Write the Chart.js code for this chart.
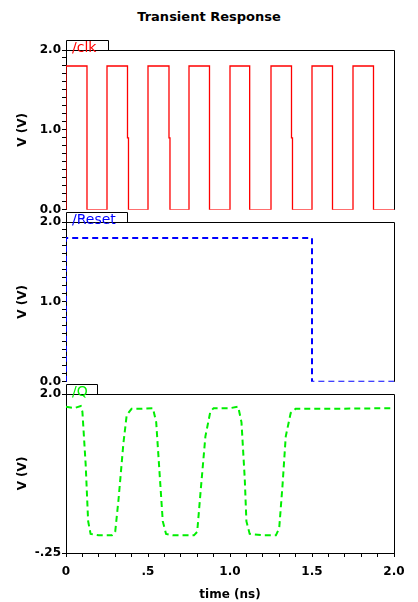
<!DOCTYPE html>
<html lang="en">
<head>
  <meta charset="UTF-8">
  <title>Transient Response</title>
  <script src="https://cdn.jsdelivr.net/npm/chart.js"></script>
  <style>
    body { margin: 0; background: #fff; width: 418px; height: 602px; position: relative; overflow: hidden; }
    canvas { position: absolute; left: 0; }
    #title { position: absolute; top: 9px; width: 418px; text-align: center; font: bold 13px "DejaVu Sans", sans-serif; }
  </style>
</head>
<body>
  <div id="title">Transient Response</div>
  <canvas id="c1" style="top:0"></canvas>
  <canvas id="c2" style="top:212px"></canvas>
  <canvas id="c3" style="top:384px"></canvas>
  <script>
    // clock: rising edges every 0.25 ns, falling ~0.125 ns later
    const clkRise = [0, 0.25, 0.5, 0.75, 1.0, 1.25, 1.5, 1.75];
    const clkFall = [0.128, 0.375, 0.628, 0.875, 1.12, 1.375, 1.625, 1.875];
    const clkStepFall = [false, true, true, false, false, true, false, false]; // brief 0.9 V shelf
    const clkHigh = 1.8;

    const resetTimes = [0, 0, 1.5, 1.5, 2.0];
    const resetValues = [0, 1.8, 1.8, 0, 0];

    const qTimes = [0, 0.05, 0.09, 0.1, 0.12, 0.135, 0.15, 0.2, 0.28, 0.3, 0.32, 0.35, 0.37, 0.4, 0.45, 0.53,
      0.55, 0.57, 0.59, 0.61, 0.65, 0.78, 0.8, 0.82, 0.85, 0.88, 0.9, 1.0, 1.05, 1.07, 1.09, 1.1, 1.12, 1.2,
      1.28, 1.3, 1.32, 1.34, 1.37, 1.4, 1.6, 2.0];
    const qValues = [1.82, 1.8, 1.83, 1.75, 1.0, 0.2, 0.02, 0.0, 0.0, 0.05, 0.5, 1.3, 1.7, 1.79, 1.79, 1.8,
      1.6, 0.9, 0.2, 0.02, 0.0, 0.0, 0.05, 0.6, 1.4, 1.75, 1.8, 1.8, 1.82, 1.6, 0.8, 0.2, 0.02, 0.0,
      0.0, 0.1, 0.7, 1.4, 1.73, 1.79, 1.79, 1.8];

    const xTickLabels = { 0: '0', 0.5: '.5', 1: '1.0', 1.5: '1.5', 2: '2.0' };

    const font = { family: 'DejaVu Sans', size: 12, weight: 'bold' };

    // build clk step points
    const clkPts = [{ x: 0, y: 0 }];
    clkRise.forEach((r, i) => {
      clkPts.push({ x: r, y: 0 }, { x: r, y: clkHigh }, { x: clkFall[i], y: clkHigh });
      if (clkStepFall[i]) {
        clkPts.push({ x: clkFall[i], y: 0.9 }, { x: clkFall[i] + 0.006, y: 0.9 }, { x: clkFall[i] + 0.006, y: 0 });
      } else {
        clkPts.push({ x: clkFall[i], y: 0 });
      }
    });
    clkPts.push({ x: 2.0, y: 0 });

    // frame + label tab
    function framePlugin(label, color, tabW) {
      return {
        id: 'frame',
        afterDraw(chart) {
          const a = chart.chartArea, c = chart.ctx;
          c.save();
          c.strokeStyle = '#000';
          c.lineWidth = 1;
          c.beginPath();
          c.moveTo(a.left, a.top + 0.5);
          c.lineTo(a.right + 0.5, a.top + 0.5);
          c.lineTo(a.right + 0.5, a.bottom);
          c.stroke();
          c.fillStyle = '#fff';
          c.fillRect(a.left, a.top - 9, tabW, 9);
          c.beginPath();
          c.moveTo(a.left + 0.5, a.top);
          c.lineTo(a.left + 0.5, a.top - 9.5);
          c.lineTo(a.left + tabW + 0.5, a.top - 9.5);
          c.lineTo(a.left + tabW + 0.5, a.top);
          c.stroke();
          c.fillStyle = color;
          c.font = '14px "DejaVu Sans"';
          c.textBaseline = 'middle';
          c.fillText(label, a.left + 6, a.top - 2);
          c.restore();
        }
      };
    }

    function makeChart(id, h, padTop, data, color, dash, label, tabW, yMin, yMax, yTicks, yMinor, showX) {
      const cv = document.getElementById(id);
      cv.width = 418; cv.height = h;
      cv.style.width = '418px'; cv.style.height = h + 'px';
      return new Chart(cv, {
        type: 'line',
        data: { datasets: [{ data: data, borderColor: color, borderWidth: dash ? 2 : 1.3, borderDash: dash || [],
          pointRadius: 0, tension: 0, fill: false }] },
        options: {
          responsive: false, animation: false, devicePixelRatio: 1,
          layout: { padding: { top: padTop, left: 6, right: 24, bottom: 0 } },
          plugins: { legend: { display: false }, tooltip: { enabled: false } },
          scales: {
            x: {
              type: 'linear', min: 0, max: 2, display: showX,
              afterFit: s => { if (showX) s.height = 49; },
              afterBuildTicks: s => {
                const t = [];
                for (let i = 0; i <= 20; i++) t.push({ value: i / 10 });
                s.ticks = t;
              },
              border: { color: '#000', width: 1 },
              grid: { drawOnChartArea: false, tickLength: 4, color: '#000' },
              ticks: { color: '#000', font: font, maxRotation: 0, autoSkip: false, padding: 8,
                callback: v => { const k = Math.round(v * 10) / 10; return xTickLabels[k] !== undefined ? xTickLabels[k] : ''; } },
              title: { display: true, text: 'time (ns)', color: '#000', font: font, padding: 0 }
            },
            y: {
              min: yMin, max: yMax,
              afterFit: s => { s.width = 60; },
              afterBuildTicks: s => {
                const t = yTicks.map(v => ({ value: v }));
                yMinor.forEach(v => t.push({ value: v }));
                s.ticks = t.sort((p, q) => p.value - q.value);
              },
              border: { color: '#000', width: 1 },
              grid: { drawOnChartArea: false, tickLength: 4, color: '#000' },
              ticks: { color: '#000', font: font, autoSkip: false, padding: 1,
                callback: v => yTicks.includes(v) ? (v === -0.25 ? '-.25' : v.toFixed(1)) : '' },
              title: { display: true, text: 'V (V)', color: '#000', font: font, padding: 10 }
            }
          }
        },
        plugins: [framePlugin(label, color, tabW)]
      });
    }

    const minor01 = [];
    for (let i = 1; i < 20; i++) if (i !== 10) minor01.push(i / 10);

    makeChart('c1', 218, 50, clkPts, '#ff0000', null, '/clk', 42, 0, 2, [0, 1, 2], minor01, false);
    makeChart('c2', 178, 10, resetTimes.map((t, i) => ({ x: t, y: resetValues[i] })), '#0000ff', [6, 4],
      '/Reset', 61, 0, 2, [0, 1, 2], minor01, false);
    makeChart('c3', 218, 10, qTimes.map((t, i) => ({ x: t, y: qValues[i] })), '#00ee00', [6, 4],
      '/Q', 31, -0.25, 2, [-0.25, 2], [], true);
  </script>
</body>
</html>
